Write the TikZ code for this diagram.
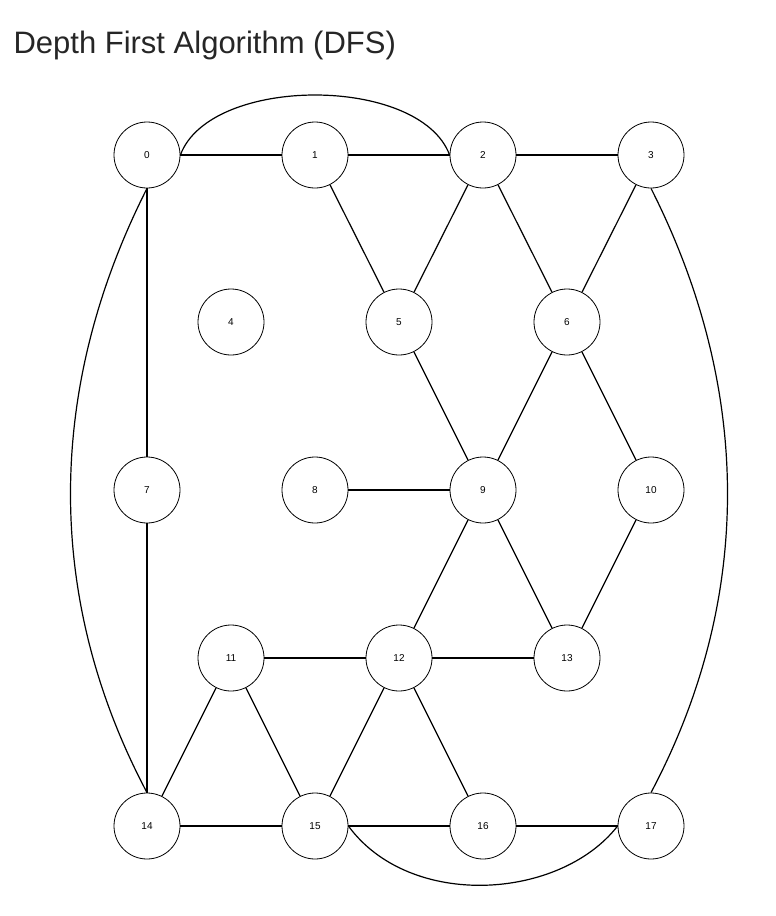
\documentclass[tikz,border=0pt]{standalone}
\usepackage{fontspec}
\setmainfont{Liberation Sans}
\begin{document}
\begin{tikzpicture}[x=1pt,y=-1pt,
  vtx/.style={circle,draw,line width=0.8pt,minimum size=66pt,inner sep=0pt,font=\fontsize{10}{12}\selectfont},
  edge/.style={line width=1.2pt}]
\useasboundingbox (0,0) rectangle (776,916);
\node[anchor=west,font=\fontsize{31}{36}\selectfont,text=black!85] (title) at (10,45) {Depth First Algorithm (DFS)};
\foreach \n/\x/\y in {0/147/155,1/315/155,2/483/155,3/651/155,4/231/322,5/399/322,6/567/322,7/147/490,8/315/490,9/483/490,10/651/490,11/231/658,12/399/658,13/567/658,14/147/826,15/315/826,16/483/826,17/651/826}
  \node[vtx] (n\n) at (\x,\y) {\n};
\foreach \a/\b in {0/1,1/2,2/3,1/5,2/5,2/6,3/6,0/7,7/14,5/9,6/9,6/10,8/9,9/12,9/13,10/13,11/12,12/13,11/14,11/15,12/15,12/16,14/15,15/16,16/17}
  \draw[edge] (n\a) -- (n\b);
\draw[edge] (n0.east) .. controls (210,75) and (420,75) .. (n2.west);
\draw[edge] (n15.east) .. controls (410,910) and (560,900) .. (n17.west);
\draw[edge] (n0.south) .. controls (45,390) and (45,600) .. (n14.north);
\draw[edge] (n3.south) .. controls (753,390) and (753,600) .. (n17.north);
\end{tikzpicture}
\end{document}
